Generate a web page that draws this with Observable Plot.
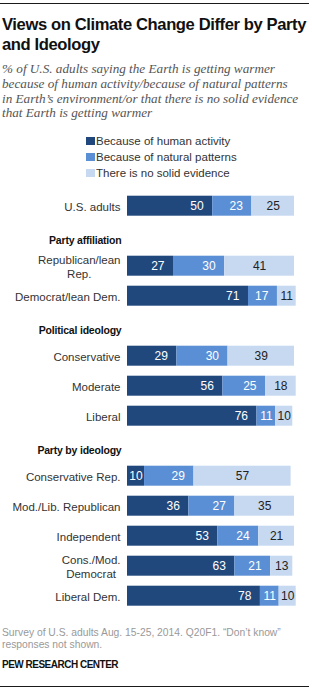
<!DOCTYPE html>
<html>
<head>
<meta charset="utf-8">
<script src="https://cdn.jsdelivr.net/npm/d3@7"></script>
<script src="https://cdn.jsdelivr.net/npm/@observablehq/plot@0.6"></script>
<style>
  body { margin: 0; background: #fff; }
  #page { position: relative; width: 312px; height: 689px; overflow: hidden; font-family: "Liberation Sans", Arial, sans-serif; }
  .rule { position: absolute; left: 0; width: 309px; height: 1px; background: #1a1a1a; }
  #title { position: absolute; left: 2px; top: 14.5px; font-weight: bold; font-size: 16.6px; line-height: 20.5px; letter-spacing: -0.4px; color: #111; white-space: nowrap; }
  #subtitle { position: absolute; left: 2px; top: 62px; font-family: "Liberation Serif", serif; font-style: italic; font-size: 13.2px; line-height: 14.8px; color: #555; white-space: nowrap; }
  #legend { position: absolute; left: 86px; top: 133px; }
  .item { display: flex; align-items: center; height: 16px; font-size: 11.5px; color: #333; }
  .sw { width: 9px; height: 8px; margin-right: 1px; flex: none; }
  #chart { position: absolute; left: 0; top: 185px; }
  #note { position: absolute; left: 2px; top: 626.5px; font-size: 10.3px; line-height: 12.5px; color: #999; white-space: nowrap; }
  #source { position: absolute; left: 2px; top: 659px; font-size: 10px; font-weight: bold; letter-spacing: -0.5px; color: #111; }
  #chart g[font-weight="bold"] text { letter-spacing: -0.2px; }
</style>
</head>
<body>
<div id="page">
  <div class="rule" style="top:3px"></div>
  <div id="title">Views on Climate Change Differ by Party<br>and Ideology</div>
  <div id="subtitle">% of U.S. adults saying the Earth is getting warmer<br>because of human activity/because of natural patterns<br>in Earth’s environment/or that there is no solid evidence<br>that Earth is getting warmer</div>
  <div id="legend"></div>
  <div id="chart"></div>
  <div id="note">Survey of U.S. adults Aug. 15-25, 2014. Q20F1. “Don’t know”<br>responses not shown.</div>
  <div id="source">PEW RESEARCH CENTER</div>
  <div class="rule" style="top:686px"></div>
</div>
<script>
// Responses and their colours
const responses = ["Because of human activity", "Because of natural patterns", "There is no solid evidence"];
const colors = ["#21487c", "#5a8fd5", "#c6d9f1"];

// Groups, in the order they are drawn
const groups = ["U.S. adults", "Republican/lean Rep.", "Democrat/lean Dem.", "Conservative", "Moderate", "Liberal",
  "Conservative Rep.", "Mod./Lib. Republican", "Independent", "Cons./Mod. Democrat", "Liberal Dem."];
const human      = [50, 27, 71, 29, 56, 76, 10, 36, 53, 63, 78];
const natural    = [23, 30, 17, 30, 25, 11, 29, 27, 24, 21, 11];
const noEvidence = [25, 41, 11, 39, 18, 10, 57, 35, 21, 13, 10];

// Section headings and the row order (headings take a row of their own)
const headings = ["Party affiliation", "Political ideology", "Party by ideology"];
const rowOrder = [groups[0], headings[0], groups[1], groups[2], headings[1], groups[3], groups[4], groups[5],
  headings[2], groups[6], groups[7], groups[8], groups[9], groups[10]];

// Row labels that wrap onto two lines
const wrapped = { "Republican/lean Rep.": "Republican/lean\nRep.", "Cons./Mod. Democrat": "Cons./Mod.\nDemocrat" };

// Long-format table for stacking
const series = [human, natural, noEvidence];
const data = [];
groups.forEach((g, i) => series.forEach((s, k) => data.push({ group: g, response: responses[k], value: s[i] })));

const light = responses[2];
const endLabel = d => d.response !== light && d.value >= 15;

// Legend
const legend = document.getElementById("legend");
responses.forEach((r, i) => {
  const item = document.createElement("div");
  item.className = "item";
  const sw = document.createElement("span");
  sw.className = "sw";
  sw.style.background = colors[i];
  item.appendChild(sw);
  item.appendChild(document.createTextNode(r));
  legend.appendChild(item);
});

const chart = Plot.plot({
  width: 312,
  height: 432,
  marginLeft: 127,
  marginRight: 14.6,
  marginTop: 5.7,
  marginBottom: 6.3,
  style: { fontFamily: "'Liberation Sans', Arial, sans-serif", fontSize: "11.5px", background: "transparent" },
  x: { domain: [0, 100], axis: null },
  y: { domain: rowOrder, axis: null, paddingInner: 1 / 3, paddingOuter: 1 / 6, round: false },
  color: { domain: responses, range: colors },
  marks: [
    Plot.barX(data, { x: "value", y: "group", fill: "response" }),
    // values right-aligned inside wide dark/medium segments
    Plot.text(data, Plot.stackX2({
      x: "value", y: "group", z: "response",
      text: d => endLabel(d) ? String(d.value) : "",
      textAnchor: "end", dx: -9, fill: "#fff", fontSize: 12
    })),
    // values centred in light and narrow segments
    Plot.text(data, Plot.stackX({
      x: "value", y: "group", z: "response",
      text: d => endLabel(d) ? "" : String(d.value),
      fill: d => d.response === light ? "#222" : "#fff", fontSize: 12
    })),
    // row labels
    Plot.text(groups, {
      y: d => d, text: d => wrapped[d] || d,
      frameAnchor: "left", textAnchor: "end", dx: -7,
      fill: "#333", fontSize: 11.5, lineHeight: 1.28
    }),
    // section headings
    Plot.text(headings, {
      y: d => d, text: d => d,
      frameAnchor: "left", textAnchor: "end", dx: -6, dy: 4,
      fill: "#111", fontSize: 10.5, fontWeight: "bold"
    })
  ]
});
document.getElementById("chart").appendChild(chart);

// Centre the lines of wrapped labels within their own block, block kept right-aligned
chart.querySelectorAll("text").forEach(t => {
  const spans = t.querySelectorAll("tspan");
  if (spans.length < 2) return;
  const w = Math.max(...Array.from(spans, s => s.getComputedTextLength()));
  t.setAttribute("text-anchor", "middle");
  spans.forEach(s => s.setAttribute("x", -w / 2));
});
</script>
</body>
</html>
